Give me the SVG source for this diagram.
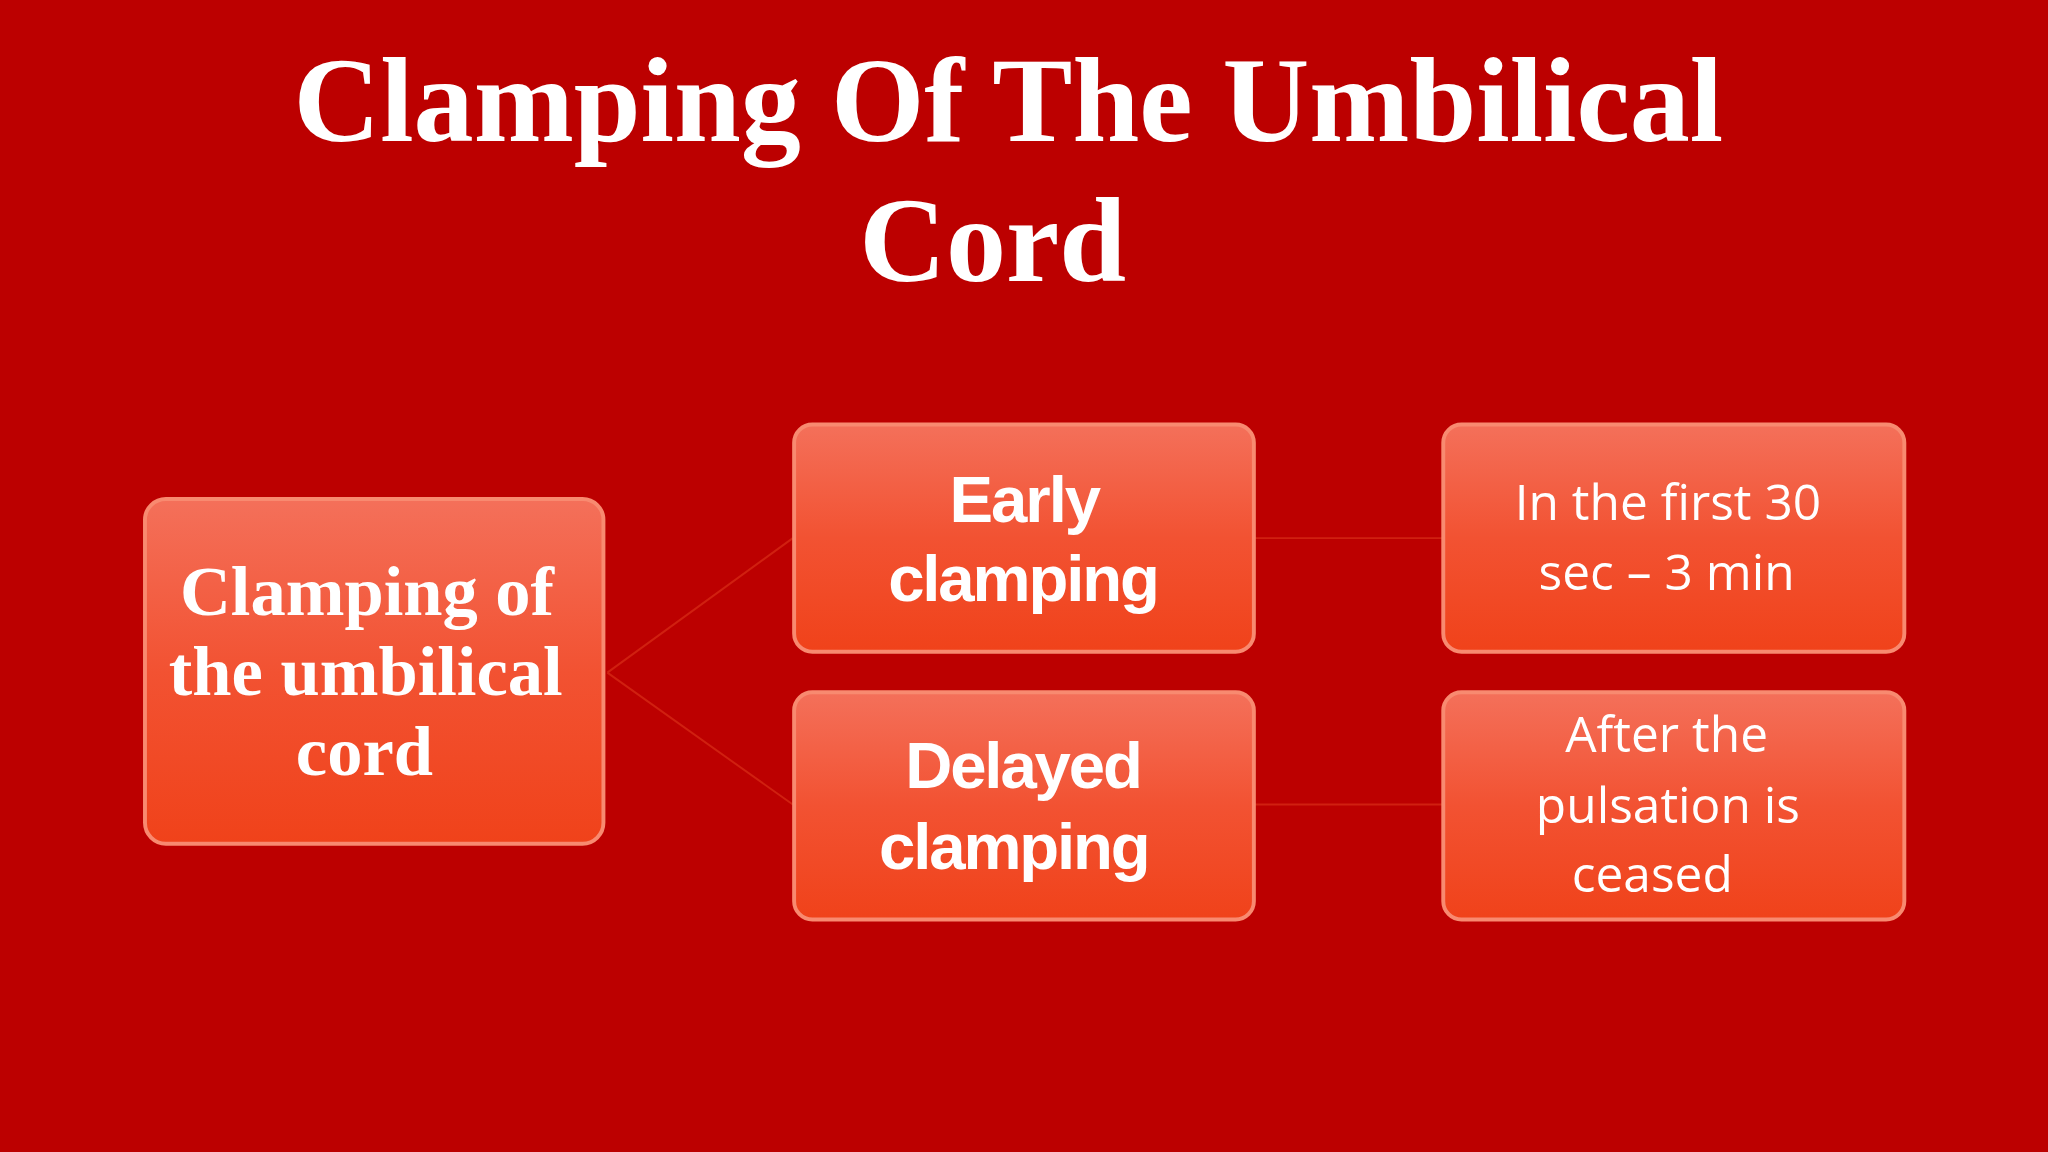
<svg xmlns="http://www.w3.org/2000/svg" width="2048" height="1152" viewBox="0 0 2048 1152">
<defs>
<linearGradient id="g" x1="0" y1="0" x2="0" y2="1">
<stop offset="0" stop-color="#F4705A"/><stop offset="0.5" stop-color="#F25232"/><stop offset="1" stop-color="#F0421A"/>
</linearGradient>
<style>
.box{fill:url(#g);stroke:#F88A70;stroke-width:3}
.t{fill:#fff;text-anchor:middle}
.serif{font-family:"Liberation Serif",serif;font-weight:bold}
.bs{font-family:"Liberation Sans",Arial,sans-serif;font-weight:bold;font-size:50px}
.os{font-family:"Open Sans","Liberation Sans",sans-serif;font-size:38px}
.c{stroke:#D02010;stroke-width:1.5;fill:none}
</style>
</defs>
<rect width="2048" height="1152" fill="#BC0000"/>
<g transform="scale(1.30612)">
<g id="title"><text class="t serif" x="772" y="108" font-size="92">Clamping Of The Umbilical</text>
<text class="t serif" x="760" y="215" font-size="92">Cord</text></g>
<g id="connectors">
<path class="c" d="M465 515L607 412M465 515L607 616M960 412H1105M960 616H1105"/>
</g>
<g id="n1"><rect class="box" x="111" y="382" width="351" height="264" rx="16"/>
<text class="t serif" font-size="54"><tspan x="281" y="471">Clamping of</tspan><tspan x="280" y="532">the umbilical</tspan><tspan x="279" y="593">cord</tspan></text></g>
<g id="n2"><rect class="box" x="608" y="325" width="352" height="174" rx="14"/>
<text class="t bs"><tspan x="785" y="400" textLength="116">Early</tspan><tspan x="784" y="460" textLength="208">clamping</tspan></text></g>
<g id="n3"><rect class="box" x="608" y="530" width="352" height="174" rx="14"/>
<text class="t bs"><tspan x="784" y="603" textLength="182">Delayed</tspan><tspan x="777" y="665" textLength="208">clamping</tspan></text></g>
<g id="n4"><rect class="box" x="1105" y="325" width="353" height="174" rx="14"/>
<text class="t os"><tspan x="1277" y="398">In the first 30</tspan><tspan x="1276" y="452">sec – 3 min</tspan></text></g>
<g id="n5"><rect class="box" x="1105" y="530" width="353" height="174" rx="14"/>
<text class="t os"><tspan x="1276" y="576">After the</tspan><tspan x="1277" y="630">pulsation is</tspan><tspan x="1265" y="683">ceased</tspan></text></g>
</g>
</svg>
